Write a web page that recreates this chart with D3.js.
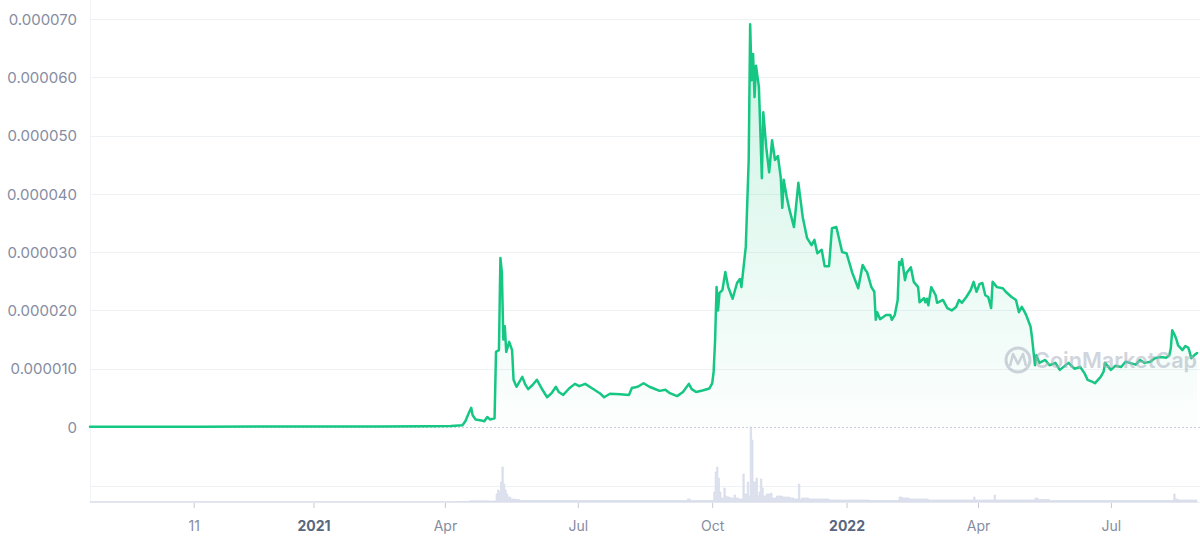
<!DOCTYPE html>
<html>
<head>
<meta charset="utf-8">
<script src="https://cdn.jsdelivr.net/npm/d3@7"></script>
<style>
  html, body { margin: 0; padding: 0; background: #ffffff; }
  svg { display: block; font-family: Inter, "Noto Sans", sans-serif; }
</style>
</head>
<body>
<svg id="chart" width="1200" height="538"></svg>
<script>
// ---------------- DATA ----------------
const priceDates = [
  "2020-08-01","2020-10-15","2021-01-01","2021-02-15","2021-03-20","2021-04-05",
  "2021-04-13","2021-04-15","2021-04-17","2021-04-19","2021-04-20","2021-04-22","2021-04-26","2021-04-28",
  "2021-04-30","2021-05-02","2021-05-05","2021-05-06","2021-05-08","2021-05-09","2021-05-10","2021-05-11",
  "2021-05-12","2021-05-13","2021-05-15","2021-05-17","2021-05-18","2021-05-20","2021-05-24","2021-05-26",
  "2021-05-28","2021-05-31","2021-06-03","2021-06-07","2021-06-10","2021-06-13","2021-06-16","2021-06-18",
  "2021-06-21","2021-06-25","2021-06-29","2021-07-02","2021-07-06","2021-07-11","2021-07-16","2021-07-19",
  "2021-07-23","2021-07-30","2021-08-05","2021-08-07","2021-08-11","2021-08-15","2021-08-19","2021-08-22",
  "2021-08-26","2021-08-30","2021-09-02","2021-09-07","2021-09-11","2021-09-15","2021-09-17","2021-09-20",
  "2021-09-25","2021-09-29","2021-10-01","2021-10-02","2021-10-03","2021-10-04","2021-10-05","2021-10-06",
  "2021-10-08","2021-10-10","2021-10-12","2021-10-15","2021-10-18","2021-10-20","2021-10-21","2021-10-24",
  "2021-10-26","2021-10-27","2021-10-28","2021-10-29","2021-10-30","2021-10-31","2021-11-02","2021-11-04",
  "2021-11-05","2021-11-07","2021-11-09","2021-11-11","2021-11-13","2021-11-15","2021-11-17","2021-11-18",
  "2021-11-19","2021-11-21","2021-11-23","2021-11-26","2021-11-29","2021-12-02","2021-12-05","2021-12-08",
  "2021-12-10","2021-12-12","2021-12-15","2021-12-17","2021-12-20","2021-12-22","2021-12-25","2021-12-29",
  "2022-01-01","2022-01-05","2022-01-09","2022-01-12","2022-01-14","2022-01-15","2022-01-18","2022-01-20",
  "2022-01-21","2022-01-22","2022-01-24","2022-01-28","2022-01-31","2022-02-01","2022-02-03","2022-02-05",
  "2022-02-06","2022-02-07","2022-02-08","2022-02-10","2022-02-11","2022-02-14","2022-02-16","2022-02-19",
  "2022-02-20","2022-02-23","2022-02-24","2022-02-25","2022-02-26","2022-02-28","2022-03-03","2022-03-04",
  "2022-03-08","2022-03-11","2022-03-14","2022-03-17","2022-03-19","2022-03-21","2022-03-24","2022-03-27",
  "2022-03-29","2022-03-31","2022-04-02","2022-04-04","2022-04-06","2022-04-08","2022-04-10","2022-04-11",
  "2022-04-14","2022-04-18","2022-04-20","2022-04-24","2022-04-27","2022-04-29","2022-05-01","2022-05-03",
  "2022-05-04","2022-05-07","2022-05-08","2022-05-10","2022-05-11","2022-05-13","2022-05-17","2022-05-20",
  "2022-05-24","2022-05-27","2022-05-30","2022-06-02","2022-06-06","2022-06-10","2022-06-13","2022-06-15",
  "2022-06-18","2022-06-20","2022-06-24","2022-06-26","2022-06-27","2022-07-01","2022-07-04","2022-07-08",
  "2022-07-11","2022-07-14","2022-07-18","2022-07-21","2022-07-24","2022-07-28","2022-07-31","2022-08-04",
  "2022-08-08","2022-08-10","2022-08-11","2022-08-12","2022-08-14","2022-08-15","2022-08-16","2022-08-19",
  "2022-08-21","2022-08-23","2022-08-24","2022-08-25","2022-08-27","2022-08-29"
];
// prices in millionths (x 1e-6)
const priceMicro = [
  0.06,0.06,0.07,0.08,0.12,0.18,
  0.3,1.0,2.2,3.3,2.0,1.3,1.1,1.0,
  1.7,1.3,1.5,12.9,13.2,29.0,26.5,15.0,
  17.3,12.9,14.6,13.2,8.1,6.9,8.6,7.3,
  6.5,7.2,8.1,6.3,5.1,5.8,6.9,6.0,
  5.5,6.6,7.4,7.0,7.4,6.6,5.8,5.1,
  5.7,5.6,5.5,6.7,6.9,7.5,6.9,6.6,
  6.2,6.4,5.8,5.3,6.0,7.4,6.5,6.0,
  6.3,6.6,7.5,9.5,15.0,24.0,20.0,23.0,
  23.5,26.6,24.0,22.0,24.7,25.4,24.0,30.9,
  45.8,69.1,59.5,64.0,56.6,62.0,58.3,42.7,
  54.0,48.0,43.7,49.2,45.8,46.5,42.7,37.6,
  42.4,39.5,37.2,34.3,41.9,36.0,32.4,31.2,
  32.1,29.8,30.4,27.6,27.6,34.1,34.3,30.0,
  29.8,26.4,23.8,27.8,26.9,26.6,24.0,23.2,
  18.4,19.7,18.5,19.2,19.2,18.4,19.2,21.8,
  28.3,27.8,28.8,25.2,26.4,27.4,24.9,24.0,
  21.4,22.1,21.4,22.0,20.9,24.0,22.6,21.3,
  21.8,20.4,20.0,20.6,21.8,21.3,22.3,23.5,
  24.9,23.2,24.5,24.7,22.6,22.3,20.4,24.9,
  24.0,23.8,23.2,22.3,21.8,19.7,20.6,19.7,
  19.2,17.2,15.3,10.6,12.3,11.0,11.5,10.6,
  11.0,9.8,10.4,11.0,10.0,10.3,9.2,8.1,
  7.8,7.5,8.6,9.5,11.0,9.8,10.5,10.3,
  11.2,11.0,10.7,11.5,11.0,11.2,11.8,12.0,
  11.9,12.3,13.5,16.6,15.6,14.9,14.0,13.2,
  13.9,13.6,12.8,11.8,12.3,12.7
];

const volumeDates = [
  "2020-08-01","2021-03-01","2021-04-10","2021-04-18","2021-05-01","2021-05-06","2021-05-07","2021-05-08",
  "2021-05-09","2021-05-10","2021-05-11","2021-05-12","2021-05-13","2021-05-14","2021-05-16","2021-05-19",
  "2021-05-22","2021-09-14","2021-09-16","2021-10-02","2021-10-03","2021-10-04","2021-10-05","2021-10-06",
  "2021-10-07","2021-10-09","2021-10-10","2021-10-11","2021-10-13","2021-10-16","2021-10-17","2021-10-19",
  "2021-10-22","2021-10-23","2021-10-25","2021-10-26","2021-10-27","2021-10-28","2021-10-29","2021-10-31",
  "2021-11-01","2021-11-02","2021-11-03","2021-11-04","2021-11-05","2021-11-07","2021-11-10","2021-11-11",
  "2021-11-14","2021-11-18","2021-11-23","2021-11-26","2021-11-29","2021-11-30","2021-12-01","2021-12-06",
  "2021-12-13","2021-12-20","2022-01-03","2022-01-17","2022-02-06","2022-02-08","2022-02-13","2022-02-26",
  "2022-03-19","2022-03-29","2022-03-30","2022-04-12","2022-04-13","2022-05-10","2022-05-12","2022-05-20",
  "2022-08-13","2022-08-14","2022-08-16","2022-08-29"
];
const volumeValues = [
  0.3,0.3,0.6,1.2,1.0,8,12,10,
  20,35,18,12,8,5,3,2.5,
  1.5,3,1.5,10,30,35,24,10,
  4,14,6,5,4,7,4,3,
  28,8,20,6,75,62,20,24,
  6,10,23,14,6,8,9,4,
  6,5,4,3,18,2,4,3,
  3,2,2,1.5,5,4,3,2,
  2,5,2,7,2,4,2.5,1.5,
  8,3,2,2
];

const yTickValues = [0, 0.00001, 0.00002, 0.00003, 0.00004, 0.00005, 0.00006, 0.00007];
const yTickLabels = ["0","0.000010","0.000020","0.000030","0.000040","0.000050","0.000060","0.000070"];
const xTickDates = ["2020-10-11","2021-01-01","2021-04-01","2021-07-01","2021-10-01","2022-01-01","2022-04-01","2022-07-01"];
const xTickLabels = ["11","2021","Apr","Jul","Oct","2022","Apr","Jul"];
const xTickBold = [false,true,false,false,false,true,false,false];
const volGridValues = [16];

// ---------------- CHART ----------------
(function () {
const parse = d3.utcParse("%Y-%m-%d");
const price = priceDates.map((d, i) => ({ date: parse(d), value: priceMicro[i] * 1e-6 }));
const volume = volumeDates.map((d, i) => ({ date: parse(d), value: volumeValues[i] }));

const svg = d3.select("#chart");
const plotLeft = 90, plotRight = 1200, plotTop = 19, zeroY = 427, volBase = 502, volTop = 427;

const x = d3.scaleUtc().domain([parse("2020-08-01"), parse("2022-08-31")]).range([plotLeft, plotRight]);
const y = d3.scaleLinear().domain([0, 0.00007]).range([zeroY, plotTop]);
const yv = d3.scaleLinear().domain([0, 75]).range([volBase, volTop]);

const defs = svg.append("defs");
const grad = defs.append("linearGradient")
  .attr("id", "areaGrad").attr("gradientUnits", "userSpaceOnUse")
  .attr("x1", 0).attr("x2", 0).attr("y1", plotTop).attr("y2", zeroY);
grad.append("stop").attr("offset", "0%").attr("stop-color", "#16c784").attr("stop-opacity", 0.22);
grad.append("stop").attr("offset", "100%").attr("stop-color", "#16c784").attr("stop-opacity", 0.01);

svg.append("line").attr("x1", plotLeft + 0.5).attr("x2", plotLeft + 0.5).attr("y1", 0).attr("y2", volBase)
  .attr("stroke", "#f1f3f6").attr("stroke-width", 1);

const yAxis = d3.axisLeft(y).tickValues(yTickValues).tickSize(0)
  .tickFormat((d, i) => yTickLabels[i]);
const gy = svg.append("g").attr("transform", `translate(${plotLeft - 10},0)`).call(yAxis);
gy.select(".domain").remove();
gy.selectAll("text").attr("fill", "#858ca2").attr("font-size", 15).attr("font-family", "Inter, sans-serif")
  .attr("dy", "0.35em");

svg.append("g").selectAll("line").data(yTickValues.filter(v => v > 0)).join("line")
  .attr("x1", plotLeft).attr("x2", plotRight)
  .attr("y1", d => Math.round(y(d)) + 0.5).attr("y2", d => Math.round(y(d)) + 0.5)
  .attr("stroke", "#eff2f5").attr("stroke-width", 1);

svg.append("g").selectAll("line").data(volGridValues).join("line")
  .attr("x1", plotLeft).attr("x2", plotRight)
  .attr("y1", d => Math.round(yv(d)) + 0.5).attr("y2", d => Math.round(yv(d)) + 0.5)
  .attr("stroke", "#eff2f5");
svg.append("line").attr("x1", plotLeft).attr("x2", plotRight).attr("y1", volBase + 0.5).attr("y2", volBase + 0.5)
  .attr("stroke", "#eceff3");

const volArea = d3.area().curve(d3.curveStepAfter)
  .x(d => x(d.date)).y0(yv(0)).y1(d => yv(d.value));
svg.append("path").datum(volume).attr("d", volArea)
  .attr("fill", "#dde1ee").attr("stroke", "#d3d8e8").attr("stroke-width", 0.6);

svg.append("line").attr("x1", plotLeft).attr("x2", plotRight).attr("y1", y(0) + 0.5).attr("y2", y(0) + 0.5)
  .attr("stroke", "#c9cfda").attr("stroke-width", 1).attr("stroke-dasharray", "2,2");

const area = d3.area().x(d => x(d.date)).y0(y(0)).y1(d => y(d.value));
svg.append("path").datum(price).attr("d", area).attr("fill", "url(#areaGrad)");
const line = d3.line().x(d => x(d.date)).y(d => y(d.value));
svg.append("path").datum(price).attr("d", line)
  .attr("fill", "none").attr("stroke", "#16c784").attr("stroke-width", 2.5)
  .attr("stroke-linejoin", "round").attr("stroke-linecap", "round");

const xDates = xTickDates.map(parse);
const xAxis = d3.axisBottom(x).tickValues(xDates).tickSize(5).tickSizeOuter(0)
  .tickFormat((d, i) => xTickLabels[i]);
const gx = svg.append("g").attr("transform", `translate(0,${volBase + 1})`).call(xAxis);
gx.select(".domain").remove();
gx.selectAll(".tick line").attr("stroke", "#c3c8d2");
gx.selectAll(".tick text")
  .attr("y", 18)
  .attr("font-family", "Inter, sans-serif")
  .attr("font-size", 14)
  .attr("font-weight", (d, i) => xTickBold[i] ? 700 : 400)
  .attr("fill", (d, i) => xTickBold[i] ? "#58667e" : "#858ca2");

const wm = svg.append("g").attr("opacity", 0.55);
wm.append("circle").attr("cx", 1018).attr("cy", 360).attr("r", 12)
  .attr("fill", "none").attr("stroke", "#aab2c0").attr("stroke-width", 3);
wm.append("path").attr("d", "M1010,366 L1013,354 L1018,364 L1023,354 L1026,366")
  .attr("fill", "none").attr("stroke", "#aab2c0").attr("stroke-width", 2.6).attr("stroke-linejoin", "round");
wm.append("text").attr("x", 1034).attr("y", 368).text("CoinMarketCap")
  .attr("font-family", "Inter, sans-serif").attr("font-size", 22).attr("font-weight", 600)
  .attr("fill", "#aab2c0").attr("textLength", 163).attr("lengthAdjust", "spacingAndGlyphs");
})();
</script>
</body>
</html>
